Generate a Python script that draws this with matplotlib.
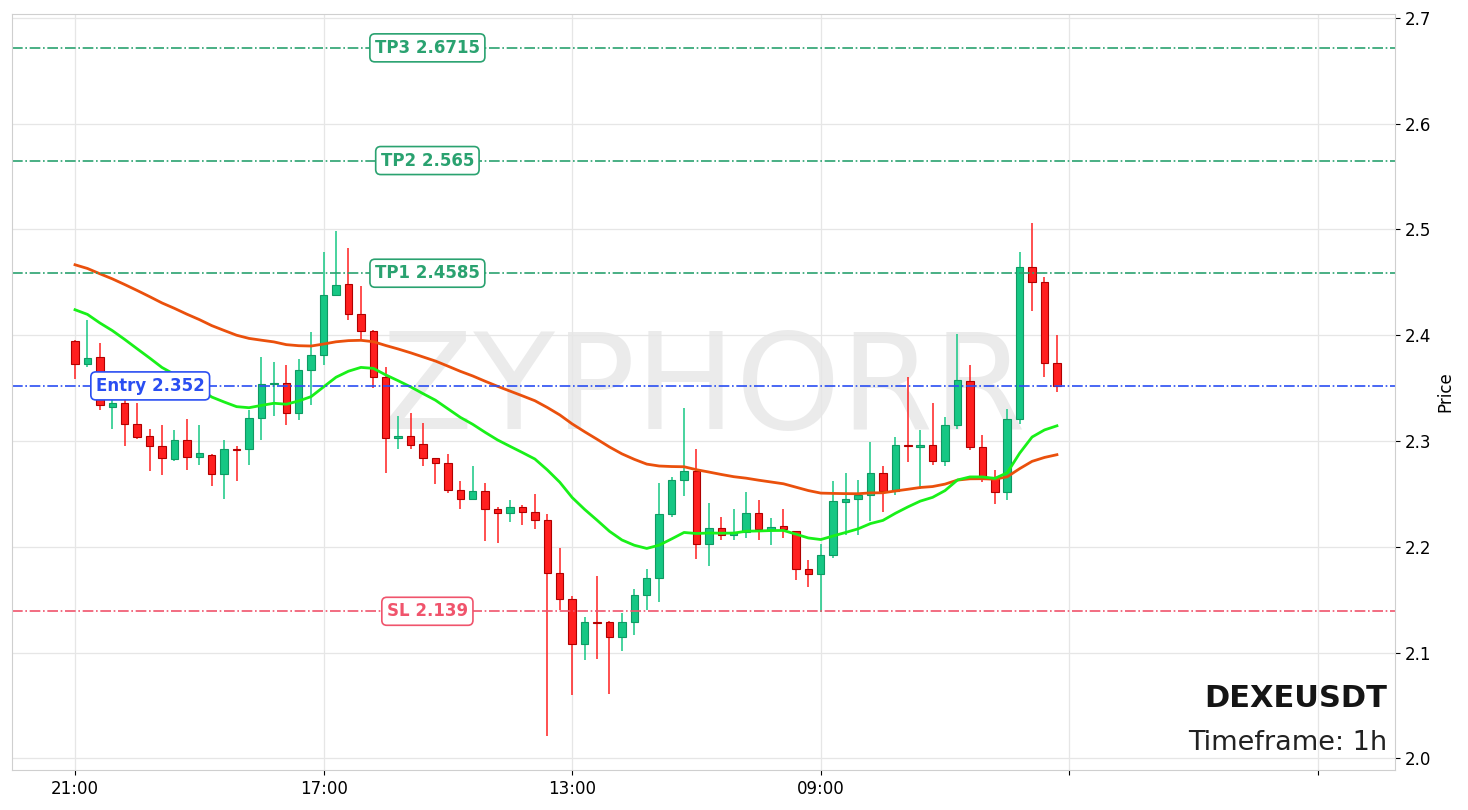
import numpy as np
import matplotlib
matplotlib.use('Agg')
import matplotlib.pyplot as plt
from matplotlib.ticker import FormatStrFormatter

# hourly candles, DEXEUSDT
opens = [2.394, 2.373, 2.379, 2.332, 2.336, 2.316, 2.305, 2.295, 2.283, 2.301,
         2.285, 2.287, 2.269, 2.292, 2.292, 2.322, 2.354, 2.355, 2.326, 2.367,
         2.381, 2.438, 2.448, 2.420, 2.404, 2.360, 2.303, 2.305, 2.297, 2.284,
         2.279, 2.254, 2.245, 2.253, 2.236, 2.232, 2.238, 2.233, 2.225, 2.175,
         2.151, 2.108, 2.129, 2.129, 2.115, 2.129, 2.154, 2.170, 2.231, 2.263,
         2.272, 2.203, 2.218, 2.211, 2.214, 2.232, 2.216, 2.220, 2.215, 2.179,
         2.174, 2.192, 2.242, 2.245, 2.249, 2.270, 2.253, 2.296, 2.294, 2.296,
         2.281, 2.315, 2.357, 2.294, 2.266, 2.252, 2.321, 2.464, 2.450, 2.374]
highs = [2.395, 2.414, 2.393, 2.345, 2.345, 2.336, 2.311, 2.315, 2.310, 2.321,
         2.315, 2.288, 2.301, 2.295, 2.329, 2.379, 2.375, 2.372, 2.377, 2.403,
         2.479, 2.498, 2.482, 2.446, 2.405, 2.370, 2.324, 2.326, 2.317, 2.284,
         2.288, 2.262, 2.276, 2.260, 2.238, 2.244, 2.239, 2.250, 2.231, 2.199,
         2.153, 2.134, 2.172, 2.130, 2.137, 2.160, 2.179, 2.260, 2.266, 2.331,
         2.292, 2.241, 2.228, 2.236, 2.252, 2.244, 2.227, 2.236, 2.215, 2.187,
         2.203, 2.262, 2.270, 2.263, 2.299, 2.276, 2.304, 2.360, 2.310, 2.336,
         2.323, 2.401, 2.372, 2.306, 2.273, 2.330, 2.479, 2.506, 2.455, 2.400]
lows = [2.359, 2.370, 2.329, 2.311, 2.295, 2.302, 2.272, 2.268, 2.281, 2.273,
        2.277, 2.257, 2.245, 2.262, 2.277, 2.301, 2.324, 2.315, 2.320, 2.334,
        2.372, 2.438, 2.414, 2.396, 2.350, 2.270, 2.292, 2.292, 2.276, 2.259,
        2.251, 2.236, 2.244, 2.205, 2.204, 2.223, 2.221, 2.217, 2.021, 2.140,
        2.060, 2.093, 2.094, 2.061, 2.101, 2.117, 2.140, 2.148, 2.228, 2.248,
        2.188, 2.182, 2.206, 2.206, 2.208, 2.206, 2.202, 2.208, 2.169, 2.162,
        2.138, 2.189, 2.211, 2.211, 2.224, 2.233, 2.249, 2.280, 2.255, 2.277,
        2.276, 2.311, 2.291, 2.261, 2.240, 2.244, 2.316, 2.423, 2.360, 2.346]
closes = [2.373, 2.378, 2.334, 2.336, 2.316, 2.304, 2.295, 2.284, 2.301, 2.285,
          2.289, 2.269, 2.292, 2.291, 2.322, 2.354, 2.355, 2.326, 2.367, 2.381,
          2.438, 2.447, 2.420, 2.404, 2.360, 2.303, 2.305, 2.296, 2.284, 2.279,
          2.254, 2.245, 2.253, 2.236, 2.232, 2.238, 2.233, 2.225, 2.175, 2.151,
          2.108, 2.129, 2.128, 2.115, 2.129, 2.154, 2.170, 2.231, 2.263, 2.272,
          2.203, 2.218, 2.211, 2.214, 2.232, 2.217, 2.219, 2.217, 2.179, 2.174,
          2.192, 2.243, 2.245, 2.249, 2.270, 2.253, 2.296, 2.295, 2.296, 2.281,
          2.315, 2.358, 2.294, 2.266, 2.252, 2.321, 2.464, 2.450, 2.374, 2.352]

ema20 = [2.4240, 2.4196, 2.4115, 2.4043, 2.3959, 2.3871, 2.3784, 2.3694, 2.3629, 2.3555,
         2.3491, 2.3415, 2.3368, 2.3324, 2.3314, 2.3336, 2.3356, 2.3347, 2.3378, 2.3419,
         2.3511, 2.3602, 2.3659, 2.3695, 2.3686, 2.3624, 2.3569, 2.3511, 2.3447, 2.3385,
         2.3304, 2.3223, 2.3157, 2.3081, 2.3009, 2.2949, 2.2890, 2.2829, 2.2726, 2.2610,
         2.2465, 2.2353, 2.2251, 2.2146, 2.2064, 2.2014, 2.1984, 2.2015, 2.2074, 2.2135,
         2.2125, 2.2130, 2.2128, 2.2129, 2.2147, 2.2149, 2.2153, 2.2154, 2.2119, 2.2083,
         2.2068, 2.2102, 2.2135, 2.2169, 2.2219, 2.2249, 2.2316, 2.2376, 2.2431, 2.2467,
         2.2531, 2.2631, 2.2660, 2.2660, 2.2646, 2.2699, 2.2884, 2.3037, 2.3104, 2.3143]
ema50 = [2.4665, 2.4630, 2.4580, 2.4532, 2.4478, 2.4422, 2.4364, 2.4304, 2.4253, 2.4198,
         2.4147, 2.4090, 2.4044, 2.3999, 2.3969, 2.3952, 2.3936, 2.3910, 2.3900, 2.3897,
         2.3916, 2.3937, 2.3948, 2.3951, 2.3938, 2.3902, 2.3869, 2.3833, 2.3794, 2.3755,
         2.3707, 2.3658, 2.3614, 2.3564, 2.3516, 2.3471, 2.3426, 2.3380, 2.3316, 2.3246,
         2.3161, 2.3087, 2.3016, 2.2943, 2.2878, 2.2826, 2.2781, 2.2763, 2.2758, 2.2756,
         2.2728, 2.2706, 2.2683, 2.2662, 2.2648, 2.2629, 2.2612, 2.2595, 2.2563, 2.2531,
         2.2507, 2.2504, 2.2502, 2.2501, 2.2509, 2.2510, 2.2527, 2.2543, 2.2560, 2.2569,
         2.2592, 2.2630, 2.2642, 2.2643, 2.2638, 2.2661, 2.2738, 2.2807, 2.2844, 2.2870]

tick_pos = [0, 20, 40, 60, 80, 100]
tick_labels = ['21:00', '17:00', '13:00', '09:00', '', '']

entry = 2.352
stop_loss = 2.139
targets = [2.4585, 2.565, 2.6715]

up_face, up_edge = '#16c784', '#0f9a63'
dn_face, dn_edge = '#ff1f1f', '#b00000'
tp_color = '#2aa270'
entry_color = '#2a4ef2'
sl_color = '#f0546c'

fig = plt.figure(figsize=(14.68, 8.10), dpi=100)
ax = fig.add_axes([12 / 1468, 40 / 810, 1383 / 1468, 756 / 810])

x = np.arange(len(closes))
o = np.array(opens)
c = np.array(closes)
up = c >= o

# watermark
ax.text(0.5, 0.5, 'ZYPHORR', transform=ax.transAxes, ha='center', va='center',
        fontsize=96, color='#ebebeb', zorder=0)

# wicks
ax.vlines(x[up], np.array(lows)[up], np.array(highs)[up], color=up_face, lw=1.1, zorder=1)
ax.vlines(x[~up], np.array(lows)[~up], np.array(highs)[~up], color=dn_face, lw=1.1, zorder=1)

# bodies
body = np.maximum(np.abs(c - o), 0.0008)
ax.bar(x[up], body[up], 0.6, bottom=np.minimum(o, c)[up], color=up_face,
       edgecolor=up_edge, linewidth=0.8, zorder=1.5)
ax.bar(x[~up], body[~up], 0.6, bottom=np.minimum(o, c)[~up], color=dn_face,
       edgecolor=dn_edge, linewidth=0.8, zorder=1.5)

ax.plot(x, ema50, color='#ea500c', lw=2.0, zorder=2)
ax.plot(x, ema20, color='#19f019', lw=2.0, zorder=2)

# trade levels
for i, tp in enumerate(targets):
    ax.axhline(tp, color=tp_color, lw=1.2, ls='-.', zorder=2)
    ax.text(28.35, tp, 'TP%d %s' % (i + 1, tp), ha='center', va='center',
            fontsize=12, fontweight='bold', color=tp_color, zorder=4,
            bbox=dict(boxstyle='round,pad=0.3', fc='white', ec=tp_color, lw=1.2))

ax.axhline(entry, color=entry_color, lw=1.2, ls='-.', zorder=2)
ax.text(6.05, entry, 'Entry %s' % entry, ha='center', va='center',
        fontsize=12, fontweight='bold', color=entry_color, zorder=4,
        bbox=dict(boxstyle='round,pad=0.3', fc='white', ec=entry_color, lw=1.2))

ax.axhline(stop_loss, color=sl_color, lw=1.2, ls='-.', zorder=2)
ax.text(28.35, stop_loss, 'SL %s' % stop_loss, ha='center', va='center',
        fontsize=12, fontweight='bold', color=sl_color, zorder=4,
        bbox=dict(boxstyle='round,pad=0.3', fc='white', ec=sl_color, lw=1.2))

ax.text(0.9942, 0.083, 'DEXEUSDT', transform=ax.transAxes, ha='right', va='baseline',
        fontsize=22, fontweight='bold', color='#151515')
ax.text(0.9942, 0.0265, 'Timeframe: 1h', transform=ax.transAxes, ha='right', va='baseline',
        fontsize=19.5, color='#222222')

ax.set_xlim(-5.07, 106.2)
ax.set_ylim(1.989, 2.7035)
ax.set_xticks(tick_pos)
ax.set_xticklabels(tick_labels)
ax.set_yticks(np.arange(2.0, 2.71, 0.1))
ax.yaxis.set_major_formatter(FormatStrFormatter('%.1f'))
ax.yaxis.tick_right()
ax.yaxis.set_label_position('right')
ax.set_ylabel('Price', fontsize=12)
ax.tick_params(labelsize=12)

ax.set_axisbelow(True)
ax.grid(True, color='#e6e6e6', lw=0.9)
for s in ax.spines.values():
    s.set_color('#cfcfcf')

fig.savefig('out.png', dpi=100)
